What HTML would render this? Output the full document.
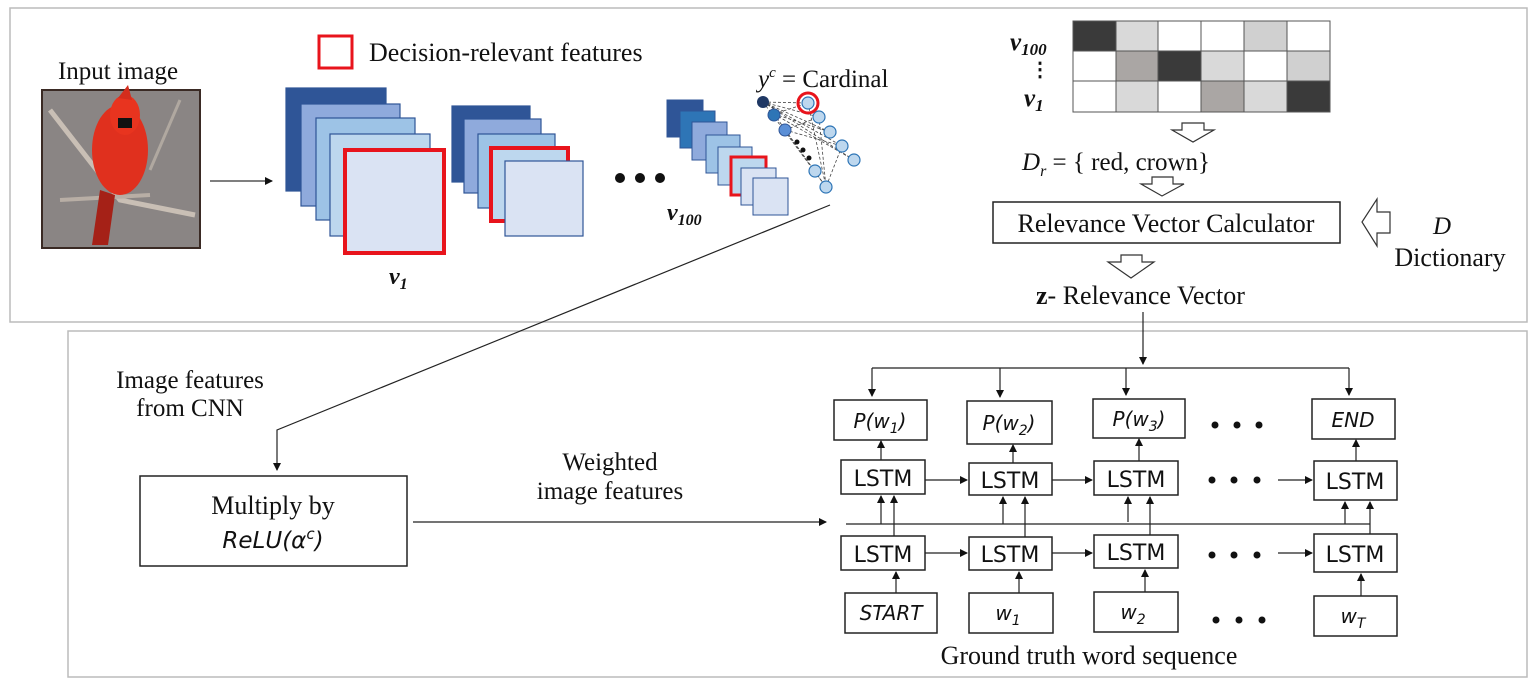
<!DOCTYPE html>
<html><head><meta charset="utf-8"><style>
html,body{margin:0;padding:0;background:#fff}
svg{display:block}
text{font-family:"Liberation Serif",serif;fill:#111}
.s{font-family:"DejaVu Sans","Liberation Sans",sans-serif}
</style></head><body>
<svg width="1536" height="686" viewBox="0 0 1536 686" xmlns="http://www.w3.org/2000/svg">
<defs>
<marker id="a" markerWidth="8" markerHeight="8" refX="7" refY="4" orient="auto" markerUnits="userSpaceOnUse"><path d="M0,0 L8,4 L0,8 z" fill="#111"/></marker>
</defs>
<rect x="10" y="8" width="1517" height="314" fill="none" stroke="#bbb" stroke-width="1.5"/>
<rect x="68" y="331" width="1459" height="346" fill="none" stroke="#bbb" stroke-width="1.5"/>

<text x="118" y="79" font-size="25" text-anchor="middle">Input image</text>
<rect x="42" y="90" width="158" height="158" fill="#8a8584"/>
<rect x="42" y="90" width="158" height="158" fill="none" stroke="#3a2a24" stroke-width="2"/>
<path d="M50,110 L120,200 L195,215" stroke="#c9bfb5" stroke-width="5" fill="none"/>
<path d="M60,200 L150,195" stroke="#b8aea5" stroke-width="4" fill="none"/>
<path d="M180,100 L150,170" stroke="#b0a8a0" stroke-width="3" fill="none"/>
<ellipse cx="120" cy="150" rx="28" ry="45" fill="#e0301e"/>
<ellipse cx="125" cy="115" rx="15" ry="20" fill="#e8341f"/>
<path d="M118,98 L128,85 L132,100z" fill="#d42d1c"/>
<rect x="118" y="118" width="14" height="10" fill="#111"/>
<path d="M100,190 L92,245 L108,245 L115,195z" fill="#a52117"/>
<line x1="210" y1="181" x2="272" y2="181" stroke="#333" stroke-width="1.2" marker-end="url(#a)"/>

<rect x="319" y="36" width="33" height="32" fill="none" stroke="#e8141c" stroke-width="3"/>
<text x="369" y="61" font-size="26">Decision-relevant features</text>

<g stroke="#2f5597" stroke-width="1.2">
<rect x="286" y="88" width="100" height="103" fill="#2f5597"/>
<rect x="301" y="104" width="99" height="102" fill="#8faadc"/>
<rect x="316" y="118" width="99" height="102" fill="#9dc3e6"/>
<rect x="330" y="134" width="100" height="102" fill="#bdd7ee"/>
<rect x="345" y="150" width="99" height="103" fill="#dae3f3" stroke="#e8141c" stroke-width="4"/>
</g>
<text x="389" y="284" font-size="24" font-style="italic" font-weight="bold">v<tspan font-size="16" dy="5">1</tspan></text>
<g stroke="#2f5597" stroke-width="1.2">
<rect x="452" y="106" width="78" height="76" fill="#2f5597"/>
<rect x="464" y="119" width="77" height="74" fill="#8faadc"/>
<rect x="478" y="134" width="77" height="74" fill="#9dc3e6"/>
<rect x="491" y="148" width="77" height="73" fill="#bdd7ee" stroke="#e8141c" stroke-width="4"/>
<rect x="505" y="161" width="78" height="75" fill="#dae3f3"/>
</g>
<circle cx="620" cy="178" r="5" fill="#111"/><circle cx="640" cy="178" r="5" fill="#111"/><circle cx="660" cy="178" r="5" fill="#111"/>
<g stroke="#2f5597" stroke-width="1">
<rect x="667" y="100" width="36" height="37" fill="#2f5597"/>
<rect x="680" y="111" width="35" height="37" fill="#2e75b6"/>
<rect x="692" y="122" width="35" height="38" fill="#8faadc"/>
<rect x="706" y="135" width="34" height="38" fill="#9dc3e6"/>
<rect x="718" y="147" width="34" height="38" fill="#bdd7ee"/>
<rect x="731" y="157" width="35" height="38" fill="#bdd7ee" stroke="#e8141c" stroke-width="3"/>
<rect x="741" y="168" width="35" height="37" fill="#dae3f3"/>
<rect x="753" y="178" width="35" height="37" fill="#dae3f3"/>
</g>
<text x="667" y="220" font-size="24" font-style="italic" font-weight="bold">v<tspan font-size="16" dy="5">100</tspan></text>
<g stroke="#444" stroke-width="0.8" stroke-dasharray="3,2" fill="none">
<path d="M763,102 L808,103 M763,102 L819,117 M763,102 L830,132 M763,102 L842,146 M763,102 L854,160 M763,102 L826,187 M774,114 L808,103 M774,114 L830,132 M774,114 L854,160 M774,114 L826,187 M785,130 L819,117 M785,130 L842,146 M785,130 L826,187 M808,103 L826,187 M819,117 L826,187 M842,146 L826,187"/>
</g>
<circle cx="797" cy="142" r="2.5" fill="#111"/><circle cx="803" cy="150" r="2.5" fill="#111"/><circle cx="809" cy="158" r="2.5" fill="#111"/>
<circle cx="763" cy="102" r="6" fill="#1f3864"/>
<circle cx="774" cy="115" r="6" fill="#2e75b6" stroke="#2f5597"/>
<circle cx="785" cy="130" r="6" fill="#5b8fd6" stroke="#2f5597"/>
<g fill="#bdd7ee" stroke="#2e75b6" stroke-width="1.2">
<circle cx="808" cy="103" r="6"/><circle cx="819" cy="117" r="6"/><circle cx="830" cy="132" r="6"/><circle cx="842" cy="146" r="6"/><circle cx="854" cy="160" r="6"/><circle cx="815" cy="171" r="6"/><circle cx="826" cy="187" r="6"/>
</g>
<circle cx="808" cy="103" r="10" fill="none" stroke="#e8141c" stroke-width="3"/>
<text x="758" y="87" font-size="25"><tspan font-style="italic">y</tspan><tspan font-size="15" dy="-10" font-style="italic">c</tspan><tspan dy="10"> = Cardinal</tspan></text>

<path d="M830,205 L277,430 L277,470" fill="none" stroke="#222" stroke-width="1.2" marker-end="url(#a)"/>
<text x="190" y="388" font-size="25" text-anchor="middle">Image features</text>
<text x="190" y="416" font-size="25" text-anchor="middle">from CNN</text>
<rect x="140" y="476" width="267" height="90" fill="none" stroke="#222" stroke-width="1.5"/>
<text x="273" y="514" font-size="26" text-anchor="middle">Multiply  by</text>
<text x="273" y="548" font-size="23" text-anchor="middle" class="s" font-style="italic">ReLU(α<tspan font-size="15" dy="-9">c</tspan><tspan dy="9">)</tspan></text>
<text x="610" y="470" font-size="25" text-anchor="middle">Weighted</text>
<text x="610" y="499" font-size="25" text-anchor="middle">image features</text>
<line x1="413" y1="522" x2="826" y2="522" stroke="#222" stroke-width="1.2" marker-end="url(#a)"/>

<g stroke="#555" stroke-width="1">
<rect x="1073" y="21" width="43" height="30" fill="#3a3a3a"/><rect x="1116" y="21" width="42" height="30" fill="#d9d9d9"/><rect x="1158" y="21" width="43" height="30" fill="#fff"/><rect x="1201" y="21" width="43" height="30" fill="#fff"/><rect x="1244" y="21" width="43" height="30" fill="#d0d0d0"/><rect x="1287" y="21" width="43" height="30" fill="#fff"/>
<rect x="1073" y="51" width="43" height="30" fill="#fff"/><rect x="1116" y="51" width="42" height="30" fill="#aaa6a4"/><rect x="1158" y="51" width="43" height="30" fill="#3a3a3a"/><rect x="1201" y="51" width="43" height="30" fill="#d9d9d9"/><rect x="1244" y="51" width="43" height="30" fill="#fff"/><rect x="1287" y="51" width="43" height="30" fill="#d0d0d0"/>
<rect x="1073" y="81" width="43" height="31" fill="#fff"/><rect x="1116" y="81" width="42" height="31" fill="#d9d9d9"/><rect x="1158" y="81" width="43" height="31" fill="#fff"/><rect x="1201" y="81" width="43" height="31" fill="#aaa6a4"/><rect x="1244" y="81" width="43" height="31" fill="#d9d9d9"/><rect x="1287" y="81" width="43" height="31" fill="#3a3a3a"/>
</g>
<text x="1010" y="50" font-size="25" font-style="italic" font-weight="bold">v<tspan font-size="17" dy="5">100</tspan></text>
<text x="1030" y="76" font-size="20" font-weight="bold">⋮</text>
<text x="1024" y="106" font-size="25" font-style="italic" font-weight="bold">v<tspan font-size="17" dy="5">1</tspan></text>
<path d="M1182,123 L1204,123 L1204,130 L1214,130 L1193,142 L1172,130 L1182,130z" fill="#fff" stroke="#333" stroke-width="1.2"/>
<text x="1022" y="170" font-size="25"><tspan font-style="italic">D</tspan><tspan font-size="16" dy="6" font-style="italic">r</tspan><tspan dy="-6"> = { red, crown}</tspan></text>
<path d="M1152,177 L1173,177 L1173,184 L1184,184 L1162,196 L1141,184 L1152,184z" fill="#fff" stroke="#333" stroke-width="1.2"/>
<rect x="993" y="202" width="347" height="41" fill="none" stroke="#222" stroke-width="1.5"/>
<text x="1166" y="232" font-size="26" text-anchor="middle">Relevance Vector Calculator</text>
<path d="M1390,212 L1390,233 L1377,233 L1377,246 L1362,222 L1377,199 L1377,212z" fill="#fff" stroke="#333" stroke-width="1.2"/>
<text x="1442" y="234" font-size="25" font-style="italic" text-anchor="middle">D</text>
<text x="1450" y="266" font-size="26" text-anchor="middle">Dictionary</text>
<path d="M1121,255 L1142,255 L1142,262 L1154,262 L1131,278 L1108,262 L1121,262z" fill="#fff" stroke="#333" stroke-width="1.2"/>
<text x="1036" y="304" font-size="26"><tspan font-weight="bold">z</tspan>- Relevance Vector</text>
<line x1="1143" y1="312" x2="1143" y2="364" stroke="#222" stroke-width="1.2" marker-end="url(#a)"/>

<g stroke="#222" stroke-width="1.2" fill="none">
<path d="M872,368 L1349,368"/>
<line x1="872" y1="368" x2="872" y2="396" marker-end="url(#a)"/>
<line x1="1000" y1="368" x2="1000" y2="397" marker-end="url(#a)"/>
<line x1="1126" y1="368" x2="1126" y2="395" marker-end="url(#a)"/>
<line x1="1349" y1="368" x2="1349" y2="395" marker-end="url(#a)"/>
<rect x="834" y="400" width="93" height="40" stroke-width="1.5"/>
<rect x="967" y="401" width="85" height="43" stroke-width="1.5"/>
<rect x="1093" y="399" width="92" height="39" stroke-width="1.5"/>
<rect x="1312" y="399" width="83" height="40" stroke-width="1.5"/>
<rect x="841" y="460" width="84" height="34" stroke-width="1.5"/>
<rect x="969" y="463" width="83" height="32" stroke-width="1.5"/>
<rect x="1094" y="461" width="84" height="34" stroke-width="1.5"/>
<rect x="1314" y="461" width="83" height="39" stroke-width="1.5"/>
<rect x="841" y="536" width="84" height="34" stroke-width="1.5"/>
<rect x="969" y="537" width="83" height="33" stroke-width="1.5"/>
<rect x="1094" y="535" width="84" height="33" stroke-width="1.5"/>
<rect x="1314" y="534" width="83" height="38" stroke-width="1.5"/>
<rect x="845" y="593" width="92" height="40" stroke-width="1.5"/>
<rect x="969" y="593" width="84" height="40" stroke-width="1.5"/>
<rect x="1094" y="592" width="84" height="40" stroke-width="1.5"/>
<rect x="1314" y="596" width="83" height="40" stroke-width="1.5"/>
<line x1="881" y1="460" x2="881" y2="441" marker-end="url(#a)"/>
<line x1="1013" y1="463" x2="1013" y2="445" marker-end="url(#a)"/>
<line x1="1139" y1="461" x2="1139" y2="439" marker-end="url(#a)"/>
<line x1="1356" y1="461" x2="1356" y2="440" marker-end="url(#a)"/>
<line x1="925" y1="480" x2="967" y2="480" marker-end="url(#a)"/>
<line x1="1052" y1="480" x2="1092" y2="480" marker-end="url(#a)"/>
<line x1="1278" y1="480" x2="1312" y2="480" marker-end="url(#a)"/>
<line x1="925" y1="553" x2="967" y2="553" marker-end="url(#a)"/>
<line x1="1052" y1="553" x2="1092" y2="553" marker-end="url(#a)"/>
<line x1="1278" y1="553" x2="1312" y2="553" marker-end="url(#a)"/>
<path d="M846,524 L1370,524"/>
<line x1="881" y1="524" x2="881" y2="496" marker-end="url(#a)"/>
<line x1="894" y1="536" x2="894" y2="496" marker-end="url(#a)"/>
<line x1="1003" y1="524" x2="1003" y2="497" marker-end="url(#a)"/>
<line x1="1025" y1="537" x2="1025" y2="497" marker-end="url(#a)"/>
<line x1="1128" y1="522" x2="1128" y2="497" marker-end="url(#a)"/>
<line x1="1150" y1="535" x2="1150" y2="497" marker-end="url(#a)"/>
<line x1="1345" y1="524" x2="1345" y2="502" marker-end="url(#a)"/>
<line x1="1370" y1="534" x2="1370" y2="502" marker-end="url(#a)"/>
<line x1="896" y1="593" x2="896" y2="572" marker-end="url(#a)"/>
<line x1="1019" y1="593" x2="1019" y2="572" marker-end="url(#a)"/>
<line x1="1145" y1="592" x2="1145" y2="570" marker-end="url(#a)"/>
<line x1="1361" y1="596" x2="1361" y2="574" marker-end="url(#a)"/>
</g>
<g>
<text x="880" y="428" font-size="20" text-anchor="middle" class="s" font-style="italic">P(w<tspan font-size="14" dy="5">1</tspan><tspan dy="-5">)</tspan></text>
<text x="1009" y="430" font-size="20" text-anchor="middle" class="s" font-style="italic">P(w<tspan font-size="14" dy="5">2</tspan><tspan dy="-5">)</tspan></text>
<text x="1139" y="426" font-size="20" text-anchor="middle" class="s" font-style="italic">P(w<tspan font-size="14" dy="5">3</tspan><tspan dy="-5">)</tspan></text>
<text x="1353" y="427" font-size="20" text-anchor="middle" class="s" font-style="italic">END</text>
<text x="883" y="486" font-size="22" text-anchor="middle" class="s">LSTM</text>
<text x="1010" y="488" font-size="22" text-anchor="middle" class="s">LSTM</text>
<text x="1136" y="487" font-size="22" text-anchor="middle" class="s">LSTM</text>
<text x="1355" y="489" font-size="22" text-anchor="middle" class="s">LSTM</text>
<text x="883" y="562" font-size="22" text-anchor="middle" class="s">LSTM</text>
<text x="1010" y="562" font-size="22" text-anchor="middle" class="s">LSTM</text>
<text x="1136" y="560" font-size="22" text-anchor="middle" class="s">LSTM</text>
<text x="1355" y="562" font-size="22" text-anchor="middle" class="s">LSTM</text>
<text x="891" y="620" font-size="20" text-anchor="middle" class="s" font-style="italic">START</text>
<text x="1008" y="620" font-size="20" text-anchor="middle" class="s" font-style="italic">w<tspan font-size="14" dy="5">1</tspan></text>
<text x="1133" y="619" font-size="20" text-anchor="middle" class="s" font-style="italic">w<tspan font-size="14" dy="5">2</tspan></text>
<text x="1353" y="623" font-size="20" text-anchor="middle" class="s" font-style="italic">w<tspan font-size="14" dy="5">T</tspan></text>
</g>
<g fill="#111">
<circle cx="1215" cy="425" r="3.5"/><circle cx="1237" cy="425" r="3.5"/><circle cx="1259" cy="425" r="3.5"/>
<circle cx="1212" cy="480" r="3.5"/><circle cx="1234" cy="480" r="3.5"/><circle cx="1257" cy="480" r="3.5"/>
<circle cx="1212" cy="555" r="3.5"/><circle cx="1234" cy="555" r="3.5"/><circle cx="1257" cy="555" r="3.5"/>
<circle cx="1216" cy="620" r="3.5"/><circle cx="1239" cy="620" r="3.5"/><circle cx="1262" cy="620" r="3.5"/>
</g>
<text x="1089" y="664" font-size="26" text-anchor="middle">Ground truth word sequence</text>
</svg>
</body></html>
